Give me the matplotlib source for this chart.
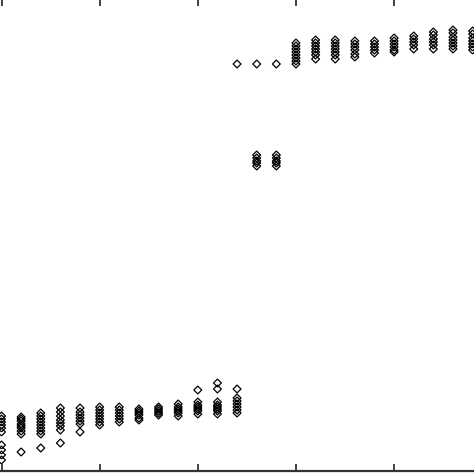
import matplotlib
matplotlib.use("Agg")
import matplotlib.pyplot as plt

# Parameter index of each column and the values observed there
lower_x = [0, 1, 2, 3, 4, 5, 6, 7, 8, 9, 10, 11, 12]
lower_y = [
    [55, 52, 49, 46, 43, 39, 26, 21, 16, 11],
    [54, 52, 50, 47, 45, 43, 40, 37, 19],
    [58, 55, 52, 49, 46, 43, 40, 37, 23],
    [63, 59, 55, 51, 48, 45, 41, 28],
    [63, 59, 56, 53, 50, 47, 39],
    [64, 61, 58, 55, 52, 49, 46],
    [64, 61, 58, 55, 52, 49],
    [62, 60, 58, 56, 53, 51],
    [64, 62, 60, 58, 56],
    [67, 64, 62, 60, 58, 55],
    [81, 69, 66, 64, 62, 60, 57],
    [88, 82, 69, 66, 64, 62, 60, 57],
    [82, 73, 70, 67, 64, 61, 58],
]

middle_x = [13, 14]
middle_y = [
    [316, 313, 310, 308, 305],
    [316, 313, 310, 308, 305],
]

upper_x = [12, 13, 14, 15, 16, 17, 18, 19, 20, 21, 22, 23, 24]
upper_y = [
    [407],
    [407],
    [407],
    [428, 425, 422, 419, 416, 413, 410, 407],
    [431, 428, 425, 422, 419, 416, 412],
    [431, 428, 425, 422, 419, 416, 412],
    [430, 427, 424, 421, 417, 414],
    [430, 427, 424, 421, 418],
    [433, 430, 427, 424, 421, 419],
    [435, 432, 429, 426, 422],
    [439, 436, 432, 429, 426, 422],
    [441, 438, 434, 431, 428, 425, 422],
    [440, 437, 433, 430, 427, 424, 421],
]

xticks = [0, 5, 10, 15, 20]

W = 474
fig = plt.figure(figsize=(W / 100, W / 100), dpi=100)
ax = fig.add_axes([0, 3 / W, 1, 472 / W])

for xs, ys in ((lower_x, lower_y), (middle_x, middle_y), (upper_x, upper_y)):
    for x, col in zip(xs, ys):
        ax.scatter([x] * len(col), col, marker="D", s=16,
                   facecolors="none", edgecolors="black", linewidths=0.9)

ax.set_xlim(-1.5 / 19.63, (W - 1.5) / 19.63)
ax.set_ylim(0, 472)
ax.set_xticks(xticks)
ax.set_yticks([])
ax.tick_params(axis="x", direction="in", top=True, bottom=True,
               length=5, width=1.2, color="#222222",
               labelbottom=False, labeltop=False)
for side in ("left", "right", "top"):
    ax.spines[side].set_visible(False)
ax.spines["bottom"].set_linewidth(1.6)
ax.spines["bottom"].set_color("#333333")

fig.savefig("out.png", dpi=100)
